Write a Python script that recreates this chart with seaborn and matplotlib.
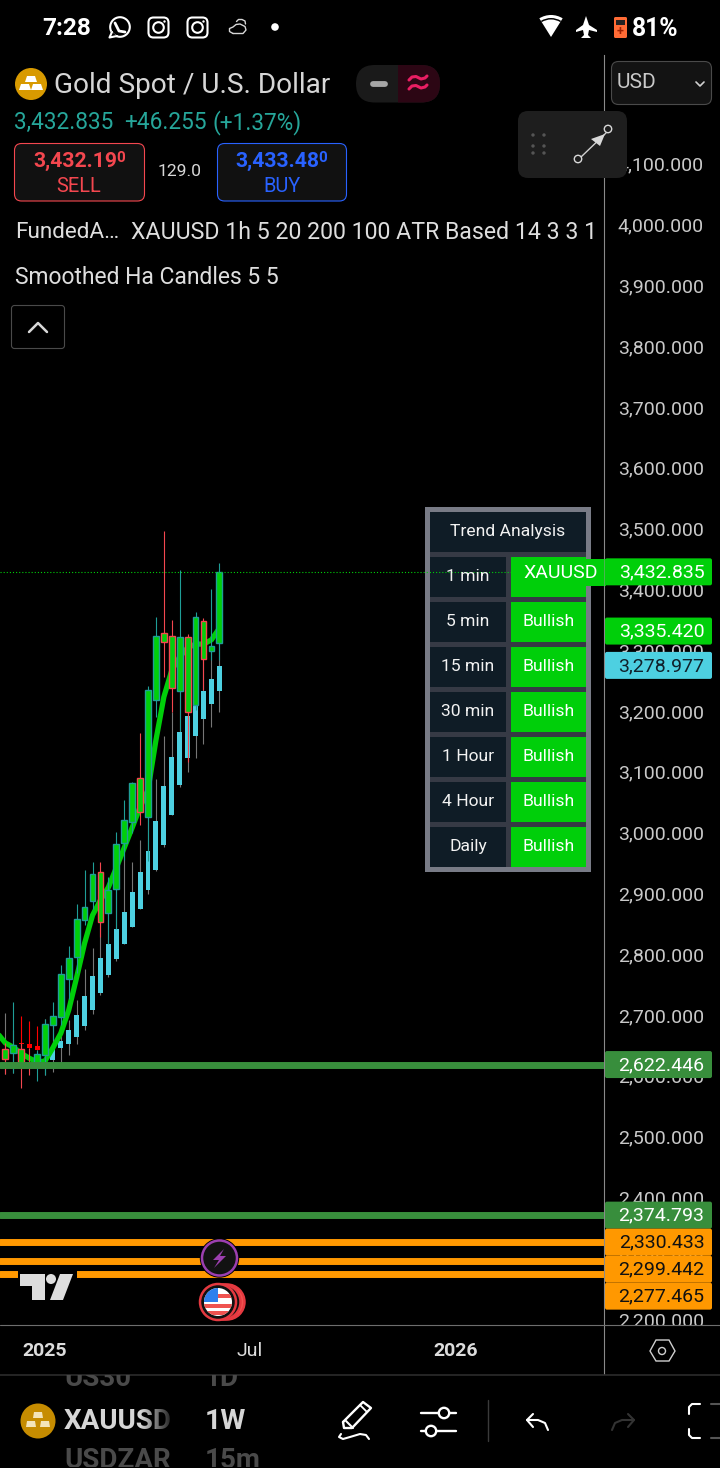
import numpy as np
import pandas as pd
import matplotlib
matplotlib.use("Agg")
import matplotlib.pyplot as plt
import seaborn as sns
from matplotlib.patches import Circle, FancyBboxPatch, Polygon, Rectangle, Wedge
from matplotlib.transforms import ScaledTranslation

# candles, oldest first
price_top = [2643, 2650, 2658, 2656, 2653, 2650, 2650, 2661, 2679, 2704, 2735, 2768, 2798, 2821,
             2845, 2873, 2906, 2939, 2974, 3023, 3081, 3128, 3169, 3196, 3214, 3237, 3257, 3278]
price_bottom = [2638, 2643, 2656, 2650, 2646, 2641, 2630, 2650, 2656, 2668, 2686, 2712, 2740, 2770,
                2796, 2821, 2849, 2878, 2910, 2942, 2984, 3033, 3082, 3127, 3163, 3191, 3215, 3237]
price_high = [2707, 2679, 2702, 2694, 2686, 2697, 2687, 2701, 2696, 2729, 2780, 2814, 2857, 2872,
              2913, 2987, 2956, 2992, 3046, 3092, 3163, 3202, 3237, 3202, 3304, 3288, 3303, 3316]
price_low = [2607, 2609, 2651, 2650, 2646, 2605, 2610, 2622, 2638, 2656, 2679, 2706, 2737, 2766,
             2793, 2821, 2849, 2878, 2903, 2941, 2980, 3033, 3079, 3104, 3127, 3150, 3178, 3202]
price_down = [2, 3, 4]

ha_top = [2648, 2655, 2648, 2622, 2640, 2689, 2702, 2771, 2798, 2862, 2882, 2936, 2939, 2910,
          2985, 3025, 3086, 3094, 3238, 3327, 3332, 3327, 3326, 3326, 3359, 3352, 3311, 3433]
ha_bottom = [2632, 2641, 2622, 2620, 2620, 2638, 2687, 2701, 2763, 2799, 2860, 2891, 2857, 2872,
             2911, 2987, 3021, 3038, 3030, 3222, 3317, 3242, 3237, 3202, 3214, 3289, 3303, 3316]
ha_high = [2658, 2725, 2658, 2650, 2646, 2697, 2725, 2786, 2817, 2887, 2942, 2956, 2956, 2931,
           3005, 3058, 3087, 3168, 3245, 3359, 3500, 3354, 3436, 3331, 3367, 3357, 3405, 3447]
ha_low = [2607, 2609, 2584, 2605, 2595, 2605, 2663, 2687, 2730, 2773, 2852, 2878, 2832, 2821,
          2845, 2959, 3003, 3016, 2957, 3194, 3260, 3202, 3171, 3120, 3206, 3238, 3288, 3288]
ha_down = [0, 2, 3, 12, 17, 20, 21, 23, 25]

# smoothed line, starts one candle before the first one
smooth_line = [2674, 2658, 2651, 2641, 2633, 2627, 2628, 2650, 2674, 2712, 2766, 2822, 2868, 2893, 2914,
               2946, 2979, 3012, 3046, 3074, 3156, 3227, 3271, 3293, 3308, 3314, 3314, 3321, 3340]

price_ticks = list(range(2200, 4200, 100))
time_ticks = [5, 30.87, 56.86]
time_labels = ["2025", "Jul", "2026"]

last_price = 3432.835
green_levels = [2622.446, 2374.793]
orange_levels = [2330.433, 2299.442, 2277.465]

trend_rows = ["1 min", "5 min", "15 min", "30 min", "1 Hour", "4 Hour", "Daily"]
trend_values = ["XAUUSD", "Bullish", "Bullish", "Bullish", "Bullish", "Bullish", "Bullish"]

GREEN = "#00cf0a"
TEAL = "#1f9e97"
RED = "#f4474f"
CYAN = "#4dd0e1"
WICK = "#767676"
LEVEL_GREEN = "#388e3c"
ORANGE = "#ff9800"
LABEL = "#c9c9c9"
FONT = ["Roboto", "DejaVu Sans"]

sns.set_theme(style="dark", rc={"axes.facecolor": "black", "figure.facecolor": "black"})
plt.rcParams["font.family"] = FONT

fig = plt.figure(figsize=(7.2, 14.68), dpi=100)
ax = fig.add_axes([0, 143 / 1468, 604 / 720, 1270 / 1468])
ax.set_xlim(-0.6725, 75.53)
ax.set_ylim(2194.1, 4282.9)

# price candles
idx = np.arange(len(price_top))
p_colors = ["#ff0000" if i in price_down else CYAN for i in idx]
p_wicks = ["#ff0000" if i in price_down else WICK for i in idx]
ax.vlines(idx, price_low, price_high, colors=p_wicks, lw=0.8, zorder=2)
ax.bar(idx, np.array(price_top) - np.array(price_bottom), bottom=price_bottom, width=0.63,
       color=p_colors, linewidth=0, zorder=3)

# smoothed line
smooth = pd.DataFrame({"x": np.arange(-1, len(smooth_line) - 1), "y": smooth_line})
sns.lineplot(data=smooth, x="x", y="y", color=GREEN, lw=3.8, ax=ax, zorder=4, legend=False)

# smoothed HA candles
h_edges = [RED if i in ha_down else TEAL for i in idx]
ax.vlines(idx, ha_low, ha_high, colors=h_edges, lw=0.8, zorder=5)
ax.bar(idx, np.array(ha_top) - np.array(ha_bottom), bottom=ha_bottom, width=0.73,
       color=GREEN, edgecolor=h_edges, linewidth=1.0, zorder=6)

for level in green_levels:
    ax.axhline(level, color=LEVEL_GREEN, lw=5, zorder=7)
for level in orange_levels:
    ax.axhline(level, color=ORANGE, lw=5, zorder=7)

ax.yaxis.tick_right()
ax.set_yticks(price_ticks, [f"{v:,.3f}" for v in price_ticks])
ax.set_xticks(time_ticks, time_labels)
ax.tick_params(axis="y", length=0, pad=9.9, labelsize=14, labelcolor=LABEL)
ax.tick_params(axis="x", length=0, pad=12.5, labelsize=14, labelcolor="#dcdcdc")
for lab, txt in zip(ax.get_xticklabels(), time_labels):
    lab.set_fontweight("normal" if txt == "Jul" else "bold")
lift = ScaledTranslation(0, 2.5 / 100, fig.dpi_scale_trans)
for lab in ax.get_yticklabels():
    lab.set_transform(lab.get_transform() + lift)
ax.set_xlabel("")
ax.set_ylabel("")
ax.grid(False)
for side, spine in ax.spines.items():
    spine.set_visible(side == "right")
    spine.set_color("#8a8a8a")
    spine.set_linewidth(0.8)

# everything around the chart goes on a pixel sized layer
ui = fig.add_axes([0, 0, 1, 1], zorder=10)
ui.set_xlim(0, 720)
ui.set_ylim(1468, 0)
ui.axis("off")


def price_y(price):
    disp = ax.transData.transform((0, price))
    return ui.transData.inverted().transform(disp)[1]


def box(x0, y0, x1, y1, fc, ec="none", lw=0, r=0, z=1):
    if r:
        patch = FancyBboxPatch((x0 + r, y0 + r), x1 - x0 - 2 * r, y1 - y0 - 2 * r,
                               boxstyle=f"round,pad={r},rounding_size={r}", fc=fc, ec=ec, lw=lw, zorder=z)
    else:
        patch = Rectangle((x0, y0), x1 - x0, y1 - y0, fc=fc, ec=ec, lw=lw, zorder=z)
    ui.add_patch(patch)
    return patch


def label(x, y, s, size=14, color=LABEL, weight="normal", ha="center", z=5):
    return ui.text(x, y + 1.5, s, fontsize=size, color=color, fontweight=weight, ha=ha, va="center", zorder=z)


def path(xs, ys, color="white", lw=1.3, z=5):
    return ui.plot(xs, ys, color=color, lw=lw, zorder=z, solid_capstyle="round", solid_joinstyle="round")[0]


# bottom strip of the price scale and frame lines
box(605, 1326, 720, 1374, "black", z=1)
path([604, 604], [1325, 1374], "#8a8a8a", 0.8, 2)
path([0, 720], [1325, 1325], "#6e6e6e", 0.8, 2)
path([0, 720], [1374.5, 1374.5], "#2c2c2c", 1.2, 2)

# trend table
box(425, 507, 591, 872, "#787b86")
box(430, 512, 586, 867, "#363a45", z=1.1)
box(430, 512, 586, 552, "#0f1c26", z=1.2)
label(508, 530, "Trend Analysis", 12.6, "#f2f2f2", z=3)
for n, (row, val) in enumerate(zip(trend_rows, trend_values)):
    top = 557 + 45 * n
    box(430, top, 506, top + 40, "#0f1c26", z=1.2)
    box(511, top, 586, top + 40, GREEN, z=1.2)
    label(468, top + 18, row, 12.6, "#f2f2f2", z=3)
    if n:
        label(548.5, top + 18, val, 12.6, "white", z=3)
dots = path([0, 511], [price_y(last_price)] * 2, GREEN, 0.8, 2)
dots.set_linestyle((0, (1, 1.8)))

# price badges
badges = [(3432.835, GREEN, "white"), (3335.420, GREEN, "white"), (3278.977, CYAN, "#10202a"),
          (green_levels[0], LEVEL_GREEN, "white"), (green_levels[1], LEVEL_GREEN, "white"),
          (orange_levels[0], ORANGE, "#111111"), (orange_levels[1], ORANGE, "#111111"),
          (orange_levels[2], ORANGE, "#111111")]
prev = -100
for value, bg, fg in badges:
    y = max(price_y(value), prev + 27)
    prev = y
    box(605, y - 13.5, 712, y + 13.5, bg, r=2, z=3)
    label(661.5, y - 1, f"{value:,.3f}", 14, fg, z=4)
box(512, 559, 606, 586, GREEN, z=3)
label(560.5, 572, "XAUUSD", 14, "white", z=4)
path([604, 604], [559, 586], "#59b060", 0.6, 3.5)

# header
label(42, 27, "7:28", 17.6, "white", "bold", ha="left")
gold = "#d89a00"
ui.add_patch(Circle((31, 84), 16, fc=gold, ec="none", zorder=4))
for bx, by in [(31, 79), (25, 87), (37, 87)]:
    ui.add_patch(Polygon([(bx - 4, by - 3), (bx + 4, by - 3), (bx + 6, by + 3), (bx - 6, by + 3)],
                         fc="white", ec="none", zorder=5))
label(54, 84, "Gold Spot / U.S. Dollar", 20.15, "#d6d6d6", ha="left")
label(14, 121, "3,432.835", 16.3, "#26a69a", ha="left")
label(124.5, 121, "+46.255", 16.3, "#26a69a", ha="left")
label(213, 121, "(+1.37%)", 16.3, "#26a69a", ha="left")

box(14.5, 143.5, 144.5, 201, "#111111", RED, 0.8, r=7)
box(217.5, 143.5, 346.5, 201, "#111111", "#2962ff", 0.8, r=7)
label(33, 160, "3,432.19", 15.2, RED, "bold", ha="left")
label(116, 157, "0", 11, RED, "bold", ha="left")
label(79, 185, "SELL", 14.4, RED)
label(235, 160, "3,433.48", 15.2, "#2962ff", "bold", ha="left")
label(318, 157, "0", 11, "#2962ff", "bold", ha="left")
label(282, 185, "BUY", 14.4, "#2962ff")
label(180, 170, "129.0", 12.6, "#d6d6d6")

label(15, 231, "FundedA…", 16.2, "#dedede", ha="left")
label(131, 231, "XAUUSD 1h 5 20 200 100 ATR Based 14 3 3 1", 16.7, "#dedede", ha="left")
label(15, 276, "Smoothed Ha Candles 5 5", 16.5, "#dedede", ha="left")
box(11.5, 305.5, 64.5, 348.5, "black", "#4a4a4a", 0.8, r=3)
path([29, 38, 47], [332, 323, 332], "#d8d8d8", 1.8)

# mode pill
pill = box(356, 65, 440, 102.5, "#1a1a1a", r=18.7, z=3)
half = Rectangle((398, 60), 50, 50, fc="#2c0614", ec="none", zorder=3.1)
ui.add_patch(half)
half.set_clip_path(pill)
path([373, 385], [84, 84], "#a6a6a6", 4.2)
wave_x = [409, 412, 416, 421, 425, 427]
wave_y = [4, 1, 0.5, 3, 2, 0]
path(wave_x, [76 + w for w in wave_y], "#e91e63", 2.2, 6)
path(wave_x, [85 + w for w in wave_y], "#e91e63", 2.2, 6)

# currency selector
box(611.5, 61.5, 711.5, 104.5, "#131313", "#4a4a4a", 0.8, r=7, z=6)
label(617, 81, "USD", 15, "#c9c9c9", ha="left", z=7)
path([696, 700, 704], [82, 86, 82], "#d0d0d0", 1.2, 7)

# drawing tool panel
box(518, 111, 627, 178, "#1e1e1e", r=10, z=6)
for dx in (533, 544):
    for dy in (135, 146, 153):
        ui.add_patch(Circle((dx, dy), 1.7, fc="#555555", ec="none", zorder=7))
path([581, 606], [157, 133], "#d0d0d0", 1, 7)
ui.add_patch(Polygon([(605, 134), (591, 139), (600, 146)], fc="#d8d8d8", ec="none", zorder=7))
for cx, cy in [(578, 159), (608, 129)]:
    ui.add_patch(Circle((cx, cy), 3.7, fc="#1e1e1e", ec="#d8d8d8", lw=1, zorder=8))

# status bar icons
ui.add_patch(Circle((120, 27), 9.8, fc="none", ec="white", lw=1.5, zorder=5))
ui.add_patch(Polygon([(111, 31), (110, 38), (117, 36)], fc="black", ec="none", zorder=5.1))
path([112, 109.5, 117], [32, 37.5, 36], "white", 1.5, 5.2)
path([115, 119, 125], [23, 31, 32], "white", 2)
for ix in (158.5, 197.5):
    box(ix - 10, 17.5, ix + 10, 37.5, "none", "white", 1.5, r=5)
    ui.add_patch(Circle((ix, 27.5), 5.3, fc="none", ec="white", lw=1.5, zorder=5))
    ui.add_patch(Circle((ix + 6, 21.5), 1.2, fc="white", ec="none", zorder=5))
path([233, 229.5, 229.5, 233, 236, 240, 245, 246, 243, 233], [33.5, 31.5, 28.5, 27, 24.5, 24, 26.5, 30, 33.5, 33.5],
     "#d6d6d6", 1)
path([236.5, 238.5, 242, 245, 245.5], [21.5, 19.5, 19.5, 21, 24], "#d6d6d6", 1)
ui.add_patch(Circle((275, 27), 3.8, fc="white", ec="none", zorder=5))
ui.add_patch(Wedge((551, 37), 22, 238, 302, fc="white", ec="none", zorder=5))
ui.add_patch(Wedge((551, 37), 19, 238, 302, width=1.5, fc="black", ec="none", zorder=5.1))
ui.add_patch(Polygon([(586, 16), (589, 25), (597, 30), (597, 32), (589, 30), (588, 35), (591, 38), (581, 38),
                      (584, 35), (583, 30), (576, 32), (576, 30), (583, 25)], fc="white", ec="none", zorder=5))
box(614, 17, 627, 38, "#ff6b35", r=1.5, z=5)
box(616, 20, 625, 25, "#222222", z=6)
label(620.5, 29.5, "+", 9, "#a02000", "bold", z=6)
label(632, 27, "81%", 17.8, "white", "bold", ha="left")

# price scale settings icon
ui.add_patch(Polygon([(650, 1351), (656, 1340), (669, 1340), (675, 1351), (669, 1361), (656, 1361)],
                     fc="none", ec="#cfcfcf", lw=1, zorder=5))
ui.add_patch(Circle((662, 1351), 3.5, fc="none", ec="#cfcfcf", lw=1, zorder=5))

# logo and event markers
box(18, 1271, 77, 1303, "black", z=4)
ui.add_patch(Polygon([(20, 1274), (45, 1274), (45, 1300), (32, 1300), (32, 1286), (20, 1286)],
                     fc="#dddddd", ec="none", zorder=5))
ui.add_patch(Circle((51, 1279), 5, fc="#dddddd", ec="none", zorder=5))
ui.add_patch(Polygon([(60, 1274), (73, 1274), (63, 1300), (50, 1300)], fc="#dddddd", ec="none", zorder=5))

ui.add_patch(Circle((219.5, 1258), 19, fc="#121212", ec="black", lw=1, zorder=5))
ui.add_patch(Circle((219.5, 1258), 17.5, fc="#121212", ec="#9c3fb0", lw=1.8, zorder=5))
ui.add_patch(Polygon([(224, 1249), (213, 1260), (219, 1260), (214, 1268), (226, 1256), (220, 1256)],
                     fc="#9c3fb0", ec="none", zorder=6))
ui.add_patch(Circle((227, 1302), 17.5, fc="#ef5350", ec="#e53940", lw=1.8, zorder=5))
ui.add_patch(Circle((223, 1302), 17.5, fc="#111111", ec="#e53940", lw=1.8, zorder=5.1))
ui.add_patch(Circle((218, 1302), 18, fc="#111111", ec="#e53940", lw=1.8, zorder=5.2))
flag = Circle((218, 1302), 14, fc="white", ec="none", zorder=5.3)
ui.add_patch(flag)
for sy in (1296, 1306, 1313):
    ui.add_patch(Rectangle((204, sy - 2), 28, 4, fc="#ef5350", ec="none", zorder=5.4, clip_path=flag))
ui.add_patch(Rectangle((204, 1288), 14, 14, fc="#2f80ed", ec="none", zorder=5.5, clip_path=flag))

# bottom toolbar
ui.add_patch(Circle((38, 1421), 17.5, fc="#c68c00", ec="none", zorder=4))
for bx, by in [(38, 1415), (31, 1424), (45, 1424)]:
    ui.add_patch(Polygon([(bx - 4, by - 3), (bx + 4, by - 3), (bx + 5, by + 3), (bx - 5, by + 3)],
                         fc="#f4e4b8", ec="none", zorder=5))
label(64, 1420, "XAUUSD", 20, "#d6d6d6", "bold", ha="left")
label(205, 1420, "1W", 20.5, "#d6d6d6", "bold", ha="left")
strip = Rectangle((0, 1375), 720, 92, transform=ui.transData)
for x, y, s in [(64, 1377, "US30"), (205, 1377, "1D"), (64, 1459, "USDZAR"), (205, 1459, "15m")]:
    faded = label(x, y, s, 20, "#4a4a4a", "bold", ha="left", z=2)
    faded.set_clip_on(True)
    faded.set_clip_path(strip)
fade = np.zeros((1, 32, 4))
fade[0, :, 3] = np.linspace(0, 0.85, 32)
ui.imshow(fade, extent=(140, 172, 1440, 1400), aspect="auto", zorder=6)
ui.set_xlim(0, 720)
ui.set_ylim(1468, 0)

# pen
path([343, 363, 371, 352, 344, 343], [1422, 1402, 1408, 1428, 1428, 1422], "white", 1.7)
path([346, 353], [1421, 1428], "white", 1.5)
path([360, 367], [1405, 1412], "white", 1.3)
path([341, 339, 343, 350, 360, 366, 369], [1434, 1437, 1439, 1437, 1434, 1435, 1439], "white", 1.5)
# sliders
path([421, 456], [1413, 1413], "white", 1.7)
path([421, 456], [1431, 1431], "white", 1.7)
ui.add_patch(Circle((444, 1413), 5.2, fc="black", ec="white", lw=1.7, zorder=6))
ui.add_patch(Circle((431, 1431), 5.2, fc="black", ec="white", lw=1.7, zorder=6))
path([488, 488], [1400, 1441], "#3a3a3a", 1)
# undo / redo
path([533, 527, 533], [1414, 1420, 1427], "white", 1.5)
path([527, 538, 545, 548], [1420, 1420, 1423, 1430], "white", 1.5)
path([628, 634, 628], [1414, 1420, 1427], "#333333", 1.5)
path([634, 622, 615, 612], [1420, 1420, 1423, 1430], "#333333", 1.5)
# fullscreen brackets, cut by the screen edge
path([700, 692, 689, 689], [1404, 1404, 1407, 1414], "white", 1.5)
path([689, 689, 692, 700], [1429, 1435, 1438, 1438], "white", 1.5)
path([711, 720], [1404, 1404], "#555555", 1.5)
path([711, 720], [1438, 1438], "#555555", 1.5)

fig.savefig("out.png", dpi=100, facecolor="black")
